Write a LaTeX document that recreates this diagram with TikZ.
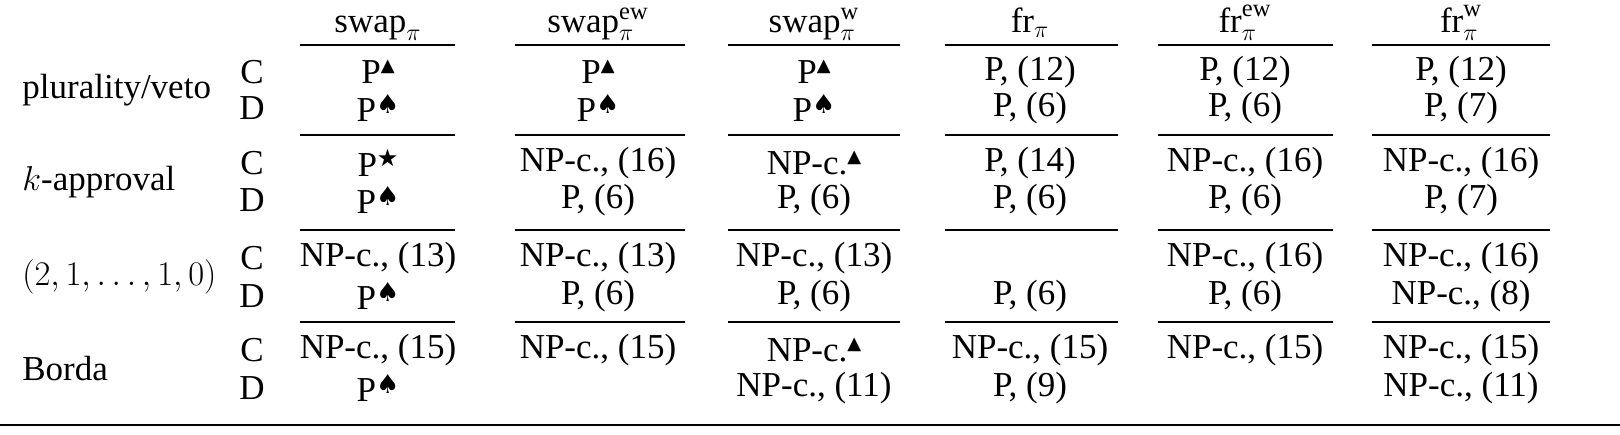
\documentclass[tikz,border=0pt]{standalone}
\usepackage{fontspec}
\setmainfont{Liberation Serif}
\newfontfamily\sym{DejaVu Sans}
\newcommand{\tri}{\raisebox{0.75ex}{\sym\fontsize{9}{9}\selectfont ▲}}
\newcommand{\spd}{\raisebox{0.55ex}{\sym\fontsize{13}{13}\selectfont ♠}}
\newcommand{\str}{\raisebox{0.6ex}{\sym\fontsize{12}{12}\selectfont ★}}
\begin{document}
\begin{tikzpicture}[x=0.5pt,y=-0.5pt,every node/.style={font=\fontsize{17.5}{19}\selectfont,inner sep=0pt},
  rule/.style={line width=0.6pt}]
\useasboundingbox (0,0) rectangle (1620,434);
\foreach \x/\t [count=\i] in {378/{$\mathrm{swap}_\pi$},598/{$\mathrm{swap}_\pi^{\mathrm{ew}}$},814/{$\mathrm{swap}_\pi^{\mathrm{w}}$},1030/{$\mathrm{fr}_\pi$},1245/{$\mathrm{fr}_\pi^{\mathrm{ew}}$},1461/{$\mathrm{fr}_\pi^{\mathrm{w}}$}}{
  \node[anchor=base] (h\i) at (\x,32) {\t};
}
\foreach \a/\b in {300/455,515/685,728/900,945/1118,1158/1333,1372/1550}{
  \foreach \y in {45,135,230,322}{\draw[rule] (\a,\y) -- (\b,\y);}
}
\draw[line width=1.2pt] (0,425) -- (1620,425);
\node[anchor=west] (r1) at (22,90) {plurality/veto};
\node[anchor=west] (r2) at (22,182) {$k$-approval};
\node[anchor=west] (r3) at (22,277) {$(2,1,\ldots,1,0)$};
\node[anchor=west] (r4) at (22,369) {Borda};
\foreach \y/\l in {72/C,108/D,163/C,200/D,258/C,296/D,350/C,388/D}{\node (l\y) at (252,\y) {\l};}
% row 1
\node at (378,72) {P\tri}; \node at (598,72) {P\tri}; \node at (814,72) {P\tri};
\node at (1030,72) {P, (12)}; \node at (1245,72) {P, (12)}; \node at (1461,72) {P, (12)};
\node at (378,108) {P\spd}; \node at (598,108) {P\spd}; \node at (814,108) {P\spd};
\node at (1030,108) {P, (6)}; \node at (1245,108) {P, (6)}; \node at (1461,108) {P, (7)};
% row 2
\node at (378,163) {P\str}; \node at (598,163) {NP-c., (16)}; \node at (814,163) {NP-c.\tri};
\node at (1030,163) {P, (14)}; \node at (1245,163) {NP-c., (16)}; \node at (1461,163) {NP-c., (16)};
\node at (378,200) {P\spd}; \node at (598,200) {P, (6)}; \node at (814,200) {P, (6)};
\node at (1030,200) {P, (6)}; \node at (1245,200) {P, (6)}; \node at (1461,200) {P, (7)};
% row 3
\node at (378,258) {NP-c., (13)}; \node at (598,258) {NP-c., (13)}; \node at (814,258) {NP-c., (13)};
\node at (1245,258) {NP-c., (16)}; \node at (1461,258) {NP-c., (16)};
\node at (378,296) {P\spd}; \node at (598,296) {P, (6)}; \node at (814,296) {P, (6)};
\node at (1030,296) {P, (6)}; \node at (1245,296) {P, (6)}; \node at (1461,296) {NP-c., (8)};
% row 4
\node at (378,350) {NP-c., (15)}; \node at (598,350) {NP-c., (15)}; \node at (814,350) {NP-c.\tri};
\node at (1030,350) {NP-c., (15)}; \node at (1245,350) {NP-c., (15)}; \node at (1461,350) {NP-c., (15)};
\node at (378,388) {P\spd}; \node at (814,388) {NP-c., (11)};
\node at (1030,388) {P, (9)}; \node at (1461,388) {NP-c., (11)};
\end{tikzpicture}
\end{document}
